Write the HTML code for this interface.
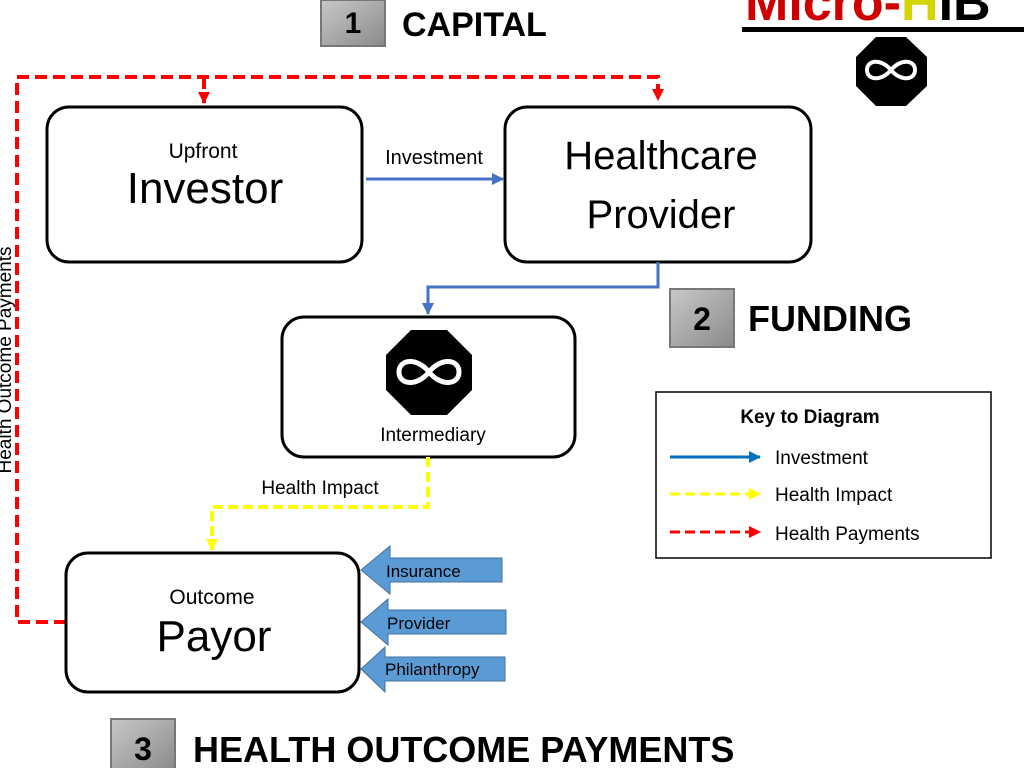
<!DOCTYPE html>
<html><head><style>
body{margin:0;background:#fff;width:1024px;height:768px;overflow:hidden}
text{font-family:"Liberation Sans",sans-serif}
</style></head><body>
<svg width="1024" height="768" viewBox="0 0 1024 768" xmlns="http://www.w3.org/2000/svg">
<defs>
<linearGradient id="g" x1="0" y1="0" x2="1" y2="1"><stop offset="0" stop-color="#c8c8c8"/><stop offset="1" stop-color="#8a8a8a"/></linearGradient>
<marker id="ab" markerWidth="12" markerHeight="12" refX="11" refY="6" orient="auto" markerUnits="userSpaceOnUse"><path d="M0,0L12,6L0,12z" fill="#4472c4"/></marker>
<marker id="ar" markerWidth="12" markerHeight="12" refX="11" refY="6" orient="auto" markerUnits="userSpaceOnUse"><path d="M0,0L12,6L0,12z" fill="#ff0000"/></marker>
<marker id="ay" markerWidth="12" markerHeight="12" refX="11" refY="6" orient="auto" markerUnits="userSpaceOnUse"><path d="M0,0L12,6L0,12z" fill="#ffff00"/></marker>
<marker id="kb" markerWidth="12" markerHeight="12" refX="11" refY="6" orient="auto" markerUnits="userSpaceOnUse"><path d="M0,0L12,6L0,12z" fill="#0070c0"/></marker>
</defs>

<!-- title top right -->
<text x="745" y="20" font-size="52" font-weight="bold" fill="#d00000">Micro-<tspan fill="#d4d400">H</tspan><tspan fill="#000">IB</tspan></text>
<rect x="742" y="27" width="282" height="5" fill="#000"/>
<polygon points="876,37 906,37 927,57 927,86 906,106 876,106 856,86 856,57" fill="#000"/>
<path d="M891,70 C881,58 867,60 867,70 C867,80 881,82 891,70 C901,58 915,60 915,70 C915,80 901,82 891,70Z" fill="none" stroke="#fff" stroke-width="4"/>

<!-- number boxes -->
<rect x="321" y="0" width="64" height="46" fill="url(#g)" stroke="#777" stroke-width="2"/>
<text x="353" y="33" font-size="30" font-weight="bold" text-anchor="middle">1</text>
<text x="402" y="36" font-size="34" font-weight="bold">CAPITAL</text>
<rect x="670" y="289" width="64" height="58" fill="url(#g)" stroke="#777" stroke-width="2"/>
<text x="702" y="330" font-size="32" font-weight="bold" text-anchor="middle">2</text>
<text x="748" y="331" font-size="36" font-weight="bold">FUNDING</text>
<rect x="111" y="719" width="64" height="52" fill="url(#g)" stroke="#777" stroke-width="2"/>
<text x="143" y="760" font-size="32" font-weight="bold" text-anchor="middle">3</text>
<text x="193" y="762" font-size="36" font-weight="bold">HEALTH OUTCOME PAYMENTS</text>

<!-- red dashed -->
<path d="M66,622H17V77H658V100" fill="none" stroke="#ff0000" stroke-width="4" stroke-dasharray="12,6" marker-end="url(#ar)"/>
<path d="M204,77V103" fill="none" stroke="#ff0000" stroke-width="4" stroke-dasharray="12,6" marker-end="url(#ar)"/>
<text transform="translate(11,360) rotate(-90)" font-size="19" text-anchor="middle">Health Outcome Payments</text>

<!-- boxes -->
<rect x="47" y="107" width="315" height="155" rx="22" fill="#fff" stroke="#000" stroke-width="3"/>
<text x="203" y="158" font-size="21" text-anchor="middle">Upfront</text>
<text x="205" y="203" font-size="44" text-anchor="middle">Investor</text>
<rect x="505" y="107" width="306" height="155" rx="22" fill="#fff" stroke="#000" stroke-width="3"/>
<text x="661" y="169" font-size="40" text-anchor="middle">Healthcare</text>
<text x="661" y="228" font-size="40" text-anchor="middle">Provider</text>
<rect x="282" y="317" width="293" height="140" rx="22" fill="#fff" stroke="#000" stroke-width="3"/>
<polygon points="411,330 447,330 472,355 472,390 447,415 411,415 386,390 386,355" fill="#000"/>
<path d="M429,372 C417,357 399,359 399,372 C399,385 417,387 429,372 C441,357 459,359 459,372 C459,385 441,387 429,372Z" fill="none" stroke="#fff" stroke-width="5"/>
<text x="433" y="441" font-size="19" text-anchor="middle">Intermediary</text>
<rect x="66" y="553" width="293" height="139" rx="22" fill="#fff" stroke="#000" stroke-width="3"/>
<text x="212" y="604" font-size="21" text-anchor="middle">Outcome</text>
<text x="214" y="651" font-size="44" text-anchor="middle">Payor</text>

<!-- blue connectors -->
<path d="M366,179H503" stroke="#4472c4" stroke-width="3" fill="none" marker-end="url(#ab)"/>
<text x="434" y="164" font-size="20" text-anchor="middle">Investment</text>
<path d="M658,262V287H428V314" stroke="#4472c4" stroke-width="3" fill="none" marker-end="url(#ab)"/>

<!-- yellow -->
<path d="M428,457V507H212V550" stroke="#ffff00" stroke-width="4" stroke-dasharray="10,5" fill="none" marker-end="url(#ay)"/>
<text x="320" y="494" font-size="19" text-anchor="middle">Health Impact</text>

<!-- block arrows -->
<g fill="#5b9bd5" stroke="#41719c" stroke-width="1">
<polygon points="361,570 390,546 390,558 502,558 502,582 390,582 390,594"/>
<polygon points="361,622 388,599 388,610 506,610 506,634 388,634 388,645"/>
<polygon points="361,669 385,647 385,657 505,657 505,681 385,681 385,692"/>
</g>
<text x="386" y="577" font-size="17">Insurance</text>
<text x="387" y="629" font-size="17">Provider</text>
<text x="385" y="675" font-size="17">Philanthropy</text>

<!-- key -->
<rect x="656" y="392" width="335" height="166" fill="#fff" stroke="#000" stroke-width="1.5"/>
<text x="810" y="423" font-size="19" font-weight="bold" text-anchor="middle">Key to Diagram</text>
<path d="M670,457H760" stroke="#0070c0" stroke-width="3" marker-end="url(#kb)"/>
<text x="775" y="464" font-size="19">Investment</text>
<path d="M670,494H760" stroke="#ffff00" stroke-width="3" stroke-dasharray="10,5" marker-end="url(#ay)"/>
<text x="775" y="501" font-size="19">Health Impact</text>
<path d="M670,532H760" stroke="#ff0000" stroke-width="3" stroke-dasharray="10,5" marker-end="url(#ar)"/>
<text x="775" y="540" font-size="19">Health Payments</text>
</svg>
</body></html>
